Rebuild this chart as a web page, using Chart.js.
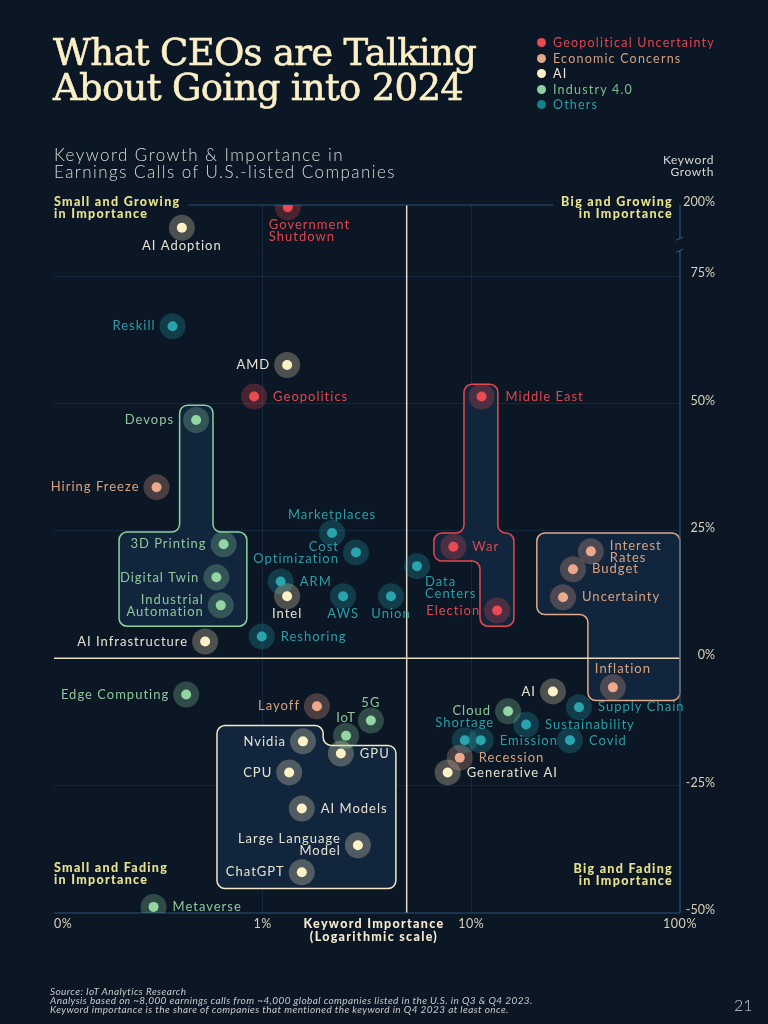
<!DOCTYPE html>
<html>
<head>
<meta charset="utf-8">
<script src="https://cdn.jsdelivr.net/npm/chart.js@4.4.1/dist/chart.umd.min.js"></script>
<style>
html, body { margin: 0; padding: 0; background: #0b1725; }
#wrap { position: relative; width: 768px; height: 1024px; overflow: hidden; }
#chart { position: absolute; left: 0; top: 0; }
.t { position: absolute; white-space: nowrap; }
#title { left: 53px; top: 36px; font: 37px/34.5px "DejaVu Serif", serif; color: #fbefc6; letter-spacing: -0.7px; -webkit-text-stroke: 0.6px #fbefc6; }
#sub { left: 54px; top: 146px; font: 300 17px/17px Lato, sans-serif; color: #dcdcd4; letter-spacing: 1.45px; }
#kg { right: 54px; top: 154px; font: 12px/12px Lato, sans-serif; color: #d8d8d0; text-align: right; letter-spacing: 0.6px; }
#legend { left: 537px; top: 35px; font: 12.5px Lato, sans-serif; letter-spacing: 1.2px; }
#legend div { height: 15.5px; display: flex; align-items: center; }
#legend span.d { width: 9px; height: 9px; border-radius: 50%; margin-right: 7px; display: inline-block; }
#foot { left: 50px; top: 987px; font: italic 10px/9px Lato, sans-serif; color: #c9c9c9; letter-spacing: 0.4px; }
#page { left: 734px; top: 995px; font: 300 16px Lato, sans-serif; color: #d0d0d0; }
</style>
</head>
<body>
<div id="wrap">
  <canvas id="chart" width="768" height="1024"></canvas>
  <div class="t" id="title">What CEOs are Talking<br>About Going into 2024</div>
  <div class="t" id="legend"></div>
  <div class="t" id="sub">Keyword Growth &amp; Importance in<br>Earnings Calls of U.S.-listed Companies</div>
  <div class="t" id="kg">Keyword<br>Growth</div>
  <div class="t" id="foot">Source: IoT Analytics Research<br>Analysis based on ~8,000 earnings calls from ~4,000 global companies listed in the U.S. in Q3 &amp; Q4 2023.<br>Keyword importance is the share of companies that mentioned the keyword in Q4 2023 at least once.</div>
  <div class="t" id="page">21</div>
</div>
<script>
// keyword importance (% of companies, log scale) and growth (%) per group
const geoKeywords = ['Government\nShutdown', 'Geopolitics', 'Middle East', 'War', 'Election'];
const geoImportance = [1.32, 0.91, 11.2, 8.2, 13.3];
const geoGrowth = [196, 51.4, 51.4, 21.9, 9.4];

const econKeywords = ['Hiring Freeze', 'Interest\nRates', 'Budget', 'Uncertainty', 'Inflation', 'Layoff', 'Recession'];
const econImportance = [0.31, 37.4, 30.7, 27.5, 47.7, 1.82, 8.8];
const econGrowth = [33.6, 21.0, 17.5, 12.0, -5.7, -9.4, -19.5];

const aiKeywords = ['AI Adoption', 'AMD', 'Intel', 'AI Infrastructure', 'AI', 'Generative AI', 'Nvidia', 'GPU', 'CPU', 'AI Models', 'Large Language\nModel', 'ChatGPT'];
const aiImportance = [0.41, 1.31, 1.31, 0.53, 24.6, 7.7, 1.56, 2.37, 1.34, 1.54, 2.86, 1.54];
const aiGrowth = [160, 57.6, 12.2, 3.3, -6.5, -22.4, -16.3, -18.7, -22.4, -29.5, -36.7, -42.0];

const indKeywords = ['Devops', '3D Printing', 'Digital Twin', 'Industrial\nAutomation', 'Edge Computing', '5G', 'IoT', 'Cloud', 'Metaverse'];
const indImportance = [0.48, 0.65, 0.60, 0.63, 0.43, 3.30, 2.51, 15.0, 0.30];
const indGrowth = [46.8, 22.4, 15.9, 10.4, -7.1, -12.2, -15.2, -10.4, -48.8];

const otherKeywords = ['Reskill', 'Marketplaces', 'Cost\nOptimization', 'ARM', 'AWS', 'Union', 'Data\nCenters', 'Reshoring', 'Supply Chain', 'Sustainability', 'Shortage', 'Emission', 'Covid'];
const otherImportance = [0.37, 2.15, 2.80, 1.22, 2.43, 4.12, 5.49, 0.99, 32.8, 18.3, 9.3, 11.1, 29.7];
const otherGrowth = [65.2, 24.6, 20.8, 15.1, 12.2, 12.2, 18.1, 4.3, -9.6, -13.0, -16.1, -16.1, -16.1];

const groupNames = ['Geopolitical Uncertainty', 'Economic Concerns', 'AI', 'Industry 4.0', 'Others'];

const xTickValues = [0.1, 1, 10, 100];
const xTickLabels = ['0%', '1%', '10%', '100%'];
const yTickValues = [-50, -25, 0, 25, 50, 75, 200];
const yTickLabels = ['-50%', '-25%', '0%', '25%', '50%', '75%', '200%'];

// highlighted clusters, outlines in (importance %, growth %)
const industryBox = [[0.40, 49.7], [0.578, 49.7], [0.578, 24.8], [0.84, 24.8], [0.84, 6.3], [0.205, 6.3], [0.205, 24.8], [0.40, 24.8]];
const geoBox = [[9.22, 53.8], [13.4, 53.8], [13.4, 24.6], [16.0, 24.6], [16.0, 6.3], [11.0, 6.3], [11.0, 19.1], [6.62, 19.1], [6.62, 24.6], [9.22, 24.6]];
const econBox = [[20.6, 24.6], [100, 24.6], [100, -8.3], [36.2, -8.3], [36.2, 8.6], [20.6, 8.6]];
const aiBox = [[0.604, -13.2], [1.95, -13.2], [1.95, -17.1], [4.35, -17.1], [4.35, -45.2], [0.604, -45.2]];

const QUAD_X = 4.9;   // importance where quadrants split
const BREAK_AT = 75, TOP_VALUE = 200, TOP_POS = 89;

// styling
const dotColors = ['#ec4a52', '#ebab8b', '#fdf1c5', '#93d6a2', '#29a3ad'];
const textColors = ['#e0464f', '#d9a27f', '#e6e2d2', '#8fc79b', '#2b9ea6'];
const legendDots = ['#ec4a52', '#e3a88a', '#fdf1c5', '#8fd19e', '#14808a'];
const legendText = ['#e0464f', '#d4a080', '#e8e6da', '#7fbf8f', '#2b9ea6'];
const boxes = [
  { pts: industryBox, color: '#8fd19e' },
  { pts: geoBox, color: '#e8474f' },
  { pts: econBox, color: '#e3a88a' },
  { pts: aiBox, color: '#f3e8c4' }
];
const labelSide = {
  'Government Shutdown': 'bl', 'Geopolitics': 'r', 'Middle East': 'rr', 'War': 'r', 'Election': 'l',
  'Hiring Freeze': 'l', 'Interest Rates': 'r', 'Budget': 'r', 'Uncertainty': 'r', 'Inflation': 'tr', 'Layoff': 'l', 'Recession': 'r',
  'AI Adoption': 'b', 'AMD': 'l', 'Intel': 'b', 'AI Infrastructure': 'l', 'AI': 'l', 'Generative AI': 'r', 'Nvidia': 'l', 'GPU': 'r',
  'CPU': 'l', 'AI Models': 'r', 'Large Language Model': 'l', 'ChatGPT': 'l',
  'Devops': 'll', '3D Printing': 'l', 'Digital Twin': 'l', 'Industrial Automation': 'l', 'Edge Computing': 'l', '5G': 't', 'IoT': 't',
  'Cloud': 'l', 'Metaverse': 'r',
  'Reskill': 'l', 'Marketplaces': 't', 'Cost Optimization': 'l', 'ARM': 'r', 'AWS': 'b', 'Union': 'b', 'Data Centers': 'br',
  'Reshoring': 'r', 'Supply Chain': 'r', 'Sustainability': 'r', 'Shortage': 't', 'Emission': 'r', 'Covid': 'r'
};

const groups = [
  { keywords: geoKeywords, importance: geoImportance, growth: geoGrowth },
  { keywords: econKeywords, importance: econImportance, growth: econGrowth },
  { keywords: aiKeywords, importance: aiImportance, growth: aiGrowth },
  { keywords: indKeywords, importance: indImportance, growth: indGrowth },
  { keywords: otherKeywords, importance: otherImportance, growth: otherGrowth }
];

// broken axis: everything above 75% is squeezed into the top strip
function axisPos(v) {
  return v <= BREAK_AT ? v : BREAK_AT + (v - BREAK_AT) * (TOP_POS - BREAK_AT) / (TOP_VALUE - BREAK_AT);
}
function alpha(hex, a) {
  const n = parseInt(hex.slice(1), 16);
  return `rgba(${n >> 16},${(n >> 8) & 255},${n & 255},${a})`;
}

// legend
const legendEl = document.getElementById('legend');
groupNames.forEach((g, i) => {
  const row = document.createElement('div');
  row.innerHTML = `<span class="d" style="background:${legendDots[i]}"></span><span style="color:${legendText[i]}">${g}</span>`;
  legendEl.appendChild(row);
});

const datasets = [];
groups.forEach((g, i) => {
  datasets.push({
    label: groupNames[i] + ' halo',
    data: g.importance.map((v, k) => ({ x: v, y: axisPos(g.growth[k]) })),
    pointRadius: 13, pointBackgroundColor: alpha(dotColors[i], 0.27), pointBorderWidth: 0,
    showLine: false, order: 2
  });
});
groups.forEach((g, i) => {
  datasets.push({
    label: groupNames[i],
    data: g.importance.map((v, k) => ({ x: v, y: axisPos(g.growth[k]) })),
    pointRadius: 5, pointBackgroundColor: dotColors[i], pointBorderWidth: 0,
    showLine: false, order: 1
  });
});

const faint = 'rgba(42,78,118,0.32)';
const axisBlue = '#28527f';
const quadColor = '#e6dcc2';
const quadLabelColor = '#e7e18e';

function roundedPoly(ctx, pts, r) {
  const n = pts.length;
  ctx.beginPath();
  ctx.moveTo((pts[n - 1][0] + pts[0][0]) / 2, (pts[n - 1][1] + pts[0][1]) / 2);
  for (let i = 0; i < n; i++) {
    const p = pts[i], q = pts[(i + 1) % n];
    ctx.arcTo(p[0], p[1], q[0], q[1], r);
  }
  ctx.closePath();
}

const backgroundPlugin = {
  id: 'backdrop',
  beforeDatasetsDraw(chart) {
    const { ctx, chartArea: a, scales: { x, y } } = chart;
    ctx.save();
    // cluster boxes
    boxes.forEach(b => {
      const pts = b.pts.map(p => [x.getPixelForValue(p[0]), y.getPixelForValue(axisPos(p[1]))]);
      roundedPoly(ctx, pts, 8);
      ctx.fillStyle = '#11263d';
      ctx.fill();
      ctx.lineWidth = 1.5;
      ctx.strokeStyle = b.color;
      ctx.stroke();
    });
    // quadrant lines
    ctx.strokeStyle = quadColor;
    ctx.lineWidth = 1.5;
    const qx = x.getPixelForValue(QUAD_X), qy = y.getPixelForValue(0);
    ctx.beginPath();
    ctx.moveTo(qx, a.top); ctx.lineTo(qx, a.bottom);
    ctx.moveTo(a.left, qy); ctx.lineTo(a.right, qy);
    ctx.stroke();
    // bottom and right axis lines, with the break
    ctx.strokeStyle = axisBlue;
    ctx.lineWidth = 1.2;
    const y75 = y.getPixelForValue(BREAK_AT);
    const gap = a.top + (y75 - a.top) * 0.55;
    ctx.beginPath();
    ctx.moveTo(a.left, a.bottom); ctx.lineTo(a.right, a.bottom);
    ctx.moveTo(a.right, a.bottom); ctx.lineTo(a.right, gap + 6);
    ctx.moveTo(a.right, gap - 6); ctx.lineTo(a.right, a.top);
    ctx.moveTo(a.right - 4, gap + 8); ctx.lineTo(a.right + 3, gap + 5);
    ctx.moveTo(a.right - 4, gap - 4); ctx.lineTo(a.right + 3, gap - 7);
    ctx.stroke();
    // quadrant captions and top line
    ctx.font = '900 12.5px Lato';
    ctx.letterSpacing = '1.3px';
    ctx.fillStyle = quadLabelColor;
    ctx.textBaseline = 'middle';
    ctx.textAlign = 'left';
    ctx.fillText('Small and Growing', a.left, a.top - 3);
    ctx.fillText('in Importance', a.left, a.top + 9);
    ctx.fillText('Small and Fading', a.left, a.bottom - 45);
    ctx.fillText('in Importance', a.left, a.bottom - 33);
    const wl = ctx.measureText('Small and Growing').width;
    ctx.textAlign = 'right';
    ctx.fillText('Big and Growing', a.right - 7, a.top - 3);
    ctx.fillText('in Importance', a.right - 7, a.top + 9);
    ctx.fillText('Big and Fading', a.right - 7, a.bottom - 44);
    ctx.fillText('in Importance', a.right - 7, a.bottom - 32);
    const wr = ctx.measureText('Big and Growing').width;
    ctx.strokeStyle = axisBlue;
    ctx.beginPath();
    ctx.moveTo(a.left + wl + 8, a.top); ctx.lineTo(a.right - 7 - wr - 8, a.top);
    ctx.stroke();
    // x axis tick labels and title
    ctx.font = '12.5px Lato';
    ctx.letterSpacing = '0.6px';
    ctx.fillStyle = '#d9d1b9';
    xTickValues.forEach((v, i) => {
      ctx.textAlign = i === 0 ? 'left' : 'center';
      ctx.fillText(xTickLabels[i], x.getPixelForValue(v), a.bottom + 11);
    });
    ctx.font = '900 12.5px Lato';
    ctx.letterSpacing = '1.3px';
    ctx.fillStyle = '#f3ead0';
    ctx.textAlign = 'center';
    ctx.fillText('Keyword Importance', 374, a.bottom + 11);
    ctx.fillText('(Logarithmic scale)', 374, a.bottom + 24);
    ctx.restore();
  }
};

const labelPlugin = {
  id: 'pointLabels',
  afterDatasetsDraw(chart) {
    const { ctx, scales: { x, y } } = chart;
    ctx.save();
    ctx.font = '13px Lato';
    ctx.letterSpacing = '1px';
    ctx.textBaseline = 'middle';
    const lh = 12;
    groups.forEach((g, gi) => {
      ctx.fillStyle = textColors[gi];
      g.keywords.forEach((name, k) => {
        const px = x.getPixelForValue(g.importance[k]);
        const py = y.getPixelForValue(axisPos(g.growth[k]));
        const lines = name.split('\n');
        const side = labelSide[lines.join(' ')] || 'r';
        let tx = px, ty = py - (lines.length - 1) * lh / 2, align = 'left';
        if (side === 'l') { align = 'right'; tx = px - 17; }
        else if (side === 'll') { align = 'right'; tx = px - 22; }
        else if (side === 'r') { align = 'left'; tx = px + 19; }
        else if (side === 'rr') { align = 'left'; tx = px + 24; }
        else if (side === 't') { align = 'center'; ty = py - 18 - (lines.length - 1) * lh; }
        else if (side === 'tr') { align = 'center'; tx = px + 10; ty = py - 19; }
        else if (side === 'b') { align = 'center'; ty = py + 18; }
        else if (side === 'br') { align = 'left'; tx = px + 8; ty = py + 16; }
        else if (side === 'bl') { align = 'left'; tx = px - 19; ty = py + 18; }
        ctx.textAlign = align;
        lines.forEach((l, li) => ctx.fillText(l, tx, ty + li * lh));
      });
    });
    ctx.restore();
  }
};

new Chart(document.getElementById('chart'), {
  type: 'scatter',
  data: { datasets },
  options: {
    responsive: false,
    animation: false,
    devicePixelRatio: 1,
    layout: { padding: { left: 54, right: 53, top: 205, bottom: 111 } },
    plugins: { legend: { display: false }, tooltip: { enabled: false } },
    scales: {
      x: {
        type: 'logarithmic', min: 0.1, max: 100,
        afterFit(s) { s.height = 0; },
        afterBuildTicks(s) { s.ticks = xTickValues.map(v => ({ value: v })); },
        ticks: { display: false },
        grid: { color: c => (c.tick && (c.tick.value === 1 || c.tick.value === 10)) ? faint : 'transparent', drawTicks: false },
        border: { display: false }
      },
      y: {
        type: 'linear', position: 'right', min: -50, max: TOP_POS,
        afterFit(s) { s.width = 35; },
        afterBuildTicks(s) { s.ticks = yTickValues.map(v => ({ value: axisPos(v) })); },
        ticks: {
          callback: (v, i) => yTickLabels[i],
          color: '#d9d1b9', font: { family: 'Lato', size: 12.5 }, crossAlign: 'far', padding: 0, labelOffset: -3
        },
        grid: {
          color: c => (c.tick && [-25, 25, 50, 75].includes(c.tick.value)) ? faint : 'transparent',
          drawTicks: false
        },
        border: { display: false }
      }
    }
  },
  plugins: [backgroundPlugin, labelPlugin]
});
</script>
</body>
</html>
